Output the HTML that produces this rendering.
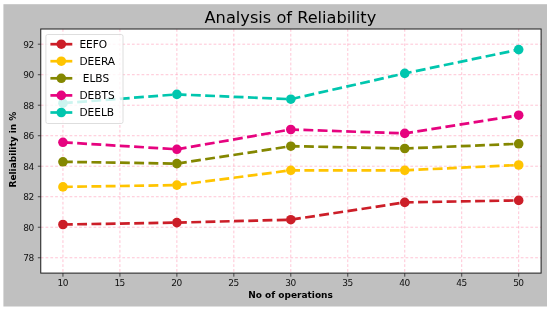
<!DOCTYPE html>
<html><head><meta charset="utf-8"><style>
html,body{margin:0;padding:0;background:#fff;width:550px;height:310px;overflow:hidden}
svg{display:block}
</style></head><body>
<svg width="550" height="310" viewBox="0 0 550 310">
<rect x="0" y="0" width="550" height="310" fill="#ffffff"/>
<rect x="3.4" y="4.2" width="543.6" height="302.3" fill="#c0c0c0"/>
<rect x="40.75" y="29.0" width="500.35" height="244.10000000000002" fill="#ffffff"/>
<g stroke="#ff9db8" stroke-width="0.6" stroke-dasharray="2.75,2.05" fill="none"><line x1="62.94" y1="29.0" x2="62.94" y2="273.1"/><line x1="119.91" y1="29.0" x2="119.91" y2="273.1"/><line x1="176.87" y1="29.0" x2="176.87" y2="273.1"/><line x1="233.84" y1="29.0" x2="233.84" y2="273.1"/><line x1="290.81" y1="29.0" x2="290.81" y2="273.1"/><line x1="347.78" y1="29.0" x2="347.78" y2="273.1"/><line x1="404.75" y1="29.0" x2="404.75" y2="273.1"/><line x1="461.71" y1="29.0" x2="461.71" y2="273.1"/><line x1="518.68" y1="29.0" x2="518.68" y2="273.1"/><line x1="40.75" y1="257.75" x2="541.1" y2="257.75"/><line x1="40.75" y1="227.24" x2="541.1" y2="227.24"/><line x1="40.75" y1="196.73" x2="541.1" y2="196.73"/><line x1="40.75" y1="166.23" x2="541.1" y2="166.23"/><line x1="40.75" y1="135.72" x2="541.1" y2="135.72"/><line x1="40.75" y1="105.22" x2="541.1" y2="105.22"/><line x1="40.75" y1="74.71" x2="541.1" y2="74.71"/><line x1="40.75" y1="44.20" x2="541.1" y2="44.20"/></g>
<polyline points="62.94,224.50 176.87,222.60 290.81,219.70 404.75,202.40 518.68,200.40" fill="none" stroke="#cc1e28" stroke-width="2.7" stroke-dasharray="9.85,4.41"/>
<circle cx="62.94" cy="224.50" r="4.8" fill="#cc1e28"/>
<circle cx="176.87" cy="222.60" r="4.8" fill="#cc1e28"/>
<circle cx="290.81" cy="219.70" r="4.8" fill="#cc1e28"/>
<circle cx="404.75" cy="202.40" r="4.8" fill="#cc1e28"/>
<circle cx="518.68" cy="200.40" r="4.8" fill="#cc1e28"/>
<polyline points="62.94,186.90 176.87,185.10 290.81,170.30 404.75,170.30 518.68,165.00" fill="none" stroke="#ffc400" stroke-width="2.7" stroke-dasharray="9.85,4.41"/>
<circle cx="62.94" cy="186.90" r="4.8" fill="#ffc400"/>
<circle cx="176.87" cy="185.10" r="4.8" fill="#ffc400"/>
<circle cx="290.81" cy="170.30" r="4.8" fill="#ffc400"/>
<circle cx="404.75" cy="170.30" r="4.8" fill="#ffc400"/>
<circle cx="518.68" cy="165.00" r="4.8" fill="#ffc400"/>
<polyline points="62.94,161.80 176.87,163.60 290.81,146.20 404.75,148.50 518.68,143.80" fill="none" stroke="#848700" stroke-width="2.7" stroke-dasharray="9.85,4.41"/>
<circle cx="62.94" cy="161.80" r="4.8" fill="#848700"/>
<circle cx="176.87" cy="163.60" r="4.8" fill="#848700"/>
<circle cx="290.81" cy="146.20" r="4.8" fill="#848700"/>
<circle cx="404.75" cy="148.50" r="4.8" fill="#848700"/>
<circle cx="518.68" cy="143.80" r="4.8" fill="#848700"/>
<polyline points="62.94,142.30 176.87,149.30 290.81,129.50 404.75,133.40 518.68,115.20" fill="none" stroke="#e6037f" stroke-width="2.7" stroke-dasharray="9.85,4.41"/>
<circle cx="62.94" cy="142.30" r="4.8" fill="#e6037f"/>
<circle cx="176.87" cy="149.30" r="4.8" fill="#e6037f"/>
<circle cx="290.81" cy="129.50" r="4.8" fill="#e6037f"/>
<circle cx="404.75" cy="133.40" r="4.8" fill="#e6037f"/>
<circle cx="518.68" cy="115.20" r="4.8" fill="#e6037f"/>
<polyline points="62.94,103.20 176.87,94.40 290.81,99.20 404.75,73.40 518.68,49.60" fill="none" stroke="#00c6ae" stroke-width="2.7" stroke-dasharray="9.85,4.41"/>
<circle cx="62.94" cy="103.20" r="4.8" fill="#00c6ae"/>
<circle cx="176.87" cy="94.40" r="4.8" fill="#00c6ae"/>
<circle cx="290.81" cy="99.20" r="4.8" fill="#00c6ae"/>
<circle cx="404.75" cy="73.40" r="4.8" fill="#00c6ae"/>
<circle cx="518.68" cy="49.60" r="4.8" fill="#00c6ae"/>
<rect x="40.75" y="29.0" width="500.35" height="244.10000000000002" fill="none" stroke="#1a1a1a" stroke-width="1.0"/>
<g stroke="#222" stroke-width="0.8"><line x1="62.94" y1="273.1" x2="62.94" y2="276.70000000000005"/><line x1="119.91" y1="273.1" x2="119.91" y2="276.70000000000005"/><line x1="176.87" y1="273.1" x2="176.87" y2="276.70000000000005"/><line x1="233.84" y1="273.1" x2="233.84" y2="276.70000000000005"/><line x1="290.81" y1="273.1" x2="290.81" y2="276.70000000000005"/><line x1="347.78" y1="273.1" x2="347.78" y2="276.70000000000005"/><line x1="404.75" y1="273.1" x2="404.75" y2="276.70000000000005"/><line x1="461.71" y1="273.1" x2="461.71" y2="276.70000000000005"/><line x1="518.68" y1="273.1" x2="518.68" y2="276.70000000000005"/><line x1="37.85" y1="257.75" x2="40.75" y2="257.75"/><line x1="37.85" y1="227.24" x2="40.75" y2="227.24"/><line x1="37.85" y1="196.73" x2="40.75" y2="196.73"/><line x1="37.85" y1="166.23" x2="40.75" y2="166.23"/><line x1="37.85" y1="135.72" x2="40.75" y2="135.72"/><line x1="37.85" y1="105.22" x2="40.75" y2="105.22"/><line x1="37.85" y1="74.71" x2="40.75" y2="74.71"/><line x1="37.85" y1="44.20" x2="40.75" y2="44.20"/></g>
<g font-family="DejaVu Sans, Liberation Sans, sans-serif" font-size="9.0" fill="#111" letter-spacing="-0.5"><text x="62.64" y="286" text-anchor="middle">10</text><text x="119.61" y="286" text-anchor="middle">15</text><text x="176.57" y="286" text-anchor="middle">20</text><text x="233.54" y="286" text-anchor="middle">25</text><text x="290.51" y="286" text-anchor="middle">30</text><text x="347.48" y="286" text-anchor="middle">35</text><text x="404.45" y="286" text-anchor="middle">40</text><text x="461.41" y="286" text-anchor="middle">45</text><text x="518.38" y="286" text-anchor="middle">50</text><text x="33.75" y="261.25" text-anchor="end">78</text><text x="33.75" y="230.74" text-anchor="end">80</text><text x="33.75" y="200.23" text-anchor="end">82</text><text x="33.75" y="169.73" text-anchor="end">84</text><text x="33.75" y="139.22" text-anchor="end">86</text><text x="33.75" y="108.72" text-anchor="end">88</text><text x="33.75" y="78.21" text-anchor="end">90</text><text x="33.75" y="47.70" text-anchor="end">92</text></g>
<text x="290.5" y="298.3" text-anchor="middle" font-family="DejaVu Sans, Liberation Sans, sans-serif" font-weight="bold" font-size="9.0">No of operations</text>
<text transform="translate(16.3,149.6) rotate(-90)" x="0" y="0" text-anchor="middle" font-family="DejaVu Sans, Liberation Sans, sans-serif" font-weight="bold" font-size="9.0">Reliability in %</text>
<text x="290.4" y="23.3" text-anchor="middle" font-family="DejaVu Sans, Liberation Sans, sans-serif" font-size="16.2">Analysis of Reliability</text>
<rect x="45.9" y="34.5" width="77.1" height="89.0" rx="1.8" ry="1.8" fill="#ffffff" fill-opacity="0.8" stroke="#d6d6d6" stroke-width="0.8"/>
<line x1="50.4" y1="44.2" x2="72.3" y2="44.2" stroke="#cc1e28" stroke-width="2.7"/>
<circle cx="61.3" cy="44.2" r="4.8" fill="#cc1e28"/>
<text x="79.4" y="48.00" font-family="DejaVu Sans, Liberation Sans, sans-serif" font-size="10.6" fill="#000" xml:space="preserve">EEFO</text>
<line x1="50.4" y1="61.2" x2="72.3" y2="61.2" stroke="#ffc400" stroke-width="2.7"/>
<circle cx="61.3" cy="61.2" r="4.8" fill="#ffc400"/>
<text x="79.4" y="65.00" font-family="DejaVu Sans, Liberation Sans, sans-serif" font-size="10.6" fill="#000" xml:space="preserve">DEERA</text>
<line x1="50.4" y1="78.3" x2="72.3" y2="78.3" stroke="#848700" stroke-width="2.7"/>
<circle cx="61.3" cy="78.3" r="4.8" fill="#848700"/>
<text x="79.4" y="82.10" font-family="DejaVu Sans, Liberation Sans, sans-serif" font-size="10.6" fill="#000" xml:space="preserve"> ELBS</text>
<line x1="50.4" y1="95.4" x2="72.3" y2="95.4" stroke="#e6037f" stroke-width="2.7"/>
<circle cx="61.3" cy="95.4" r="4.8" fill="#e6037f"/>
<text x="79.4" y="99.20" font-family="DejaVu Sans, Liberation Sans, sans-serif" font-size="10.6" fill="#000" xml:space="preserve">DEBTS</text>
<line x1="50.4" y1="112.5" x2="72.3" y2="112.5" stroke="#00c6ae" stroke-width="2.7"/>
<circle cx="61.3" cy="112.5" r="4.8" fill="#00c6ae"/>
<text x="79.4" y="116.30" font-family="DejaVu Sans, Liberation Sans, sans-serif" font-size="10.6" fill="#000" xml:space="preserve">DEELB</text>
</svg>
</body></html>
